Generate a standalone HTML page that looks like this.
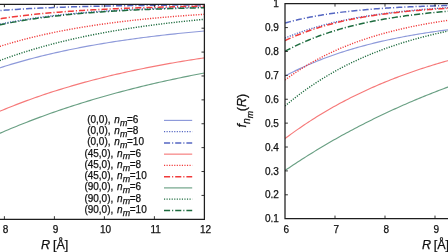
<!DOCTYPE html>
<html><head><meta charset="utf-8"><title>plot</title><style>
html,body{margin:0;padding:0;background:#fff;width:448px;height:252px;overflow:hidden}
svg{display:block}
</style></head><body>
<svg width="448" height="252" viewBox="0 0 448 252"><clipPath id="cl"><rect x="-10" y="4.30" width="214.40" height="215.00"/></clipPath><clipPath id="cr"><rect x="285.00" y="3.70" width="200" height="215.00"/></clipPath><g clip-path="url(#cl)"><path d="M-5.00,69.41 L-2.35,68.54 L0.30,67.69 L2.95,66.84 L5.60,66.02 L8.25,65.20 L10.90,64.40 L13.55,63.61 L16.21,62.84 L18.86,62.08 L21.51,61.33 L24.16,60.59 L26.81,59.87 L29.46,59.16 L32.11,58.46 L34.76,57.77 L37.41,57.09 L40.06,56.43 L42.71,55.77 L45.36,55.13 L48.01,54.50 L50.66,53.88 L53.31,53.26 L55.96,52.66 L58.62,52.07 L61.27,51.49 L63.92,50.92 L66.57,50.35 L69.22,49.80 L71.87,49.26 L74.52,48.72 L77.17,48.19 L79.82,47.68 L82.47,47.17 L85.12,46.67 L87.77,46.18 L90.42,45.69 L93.07,45.22 L95.72,44.75 L98.37,44.29 L101.03,43.83 L103.68,43.39 L106.33,42.95 L108.98,42.52 L111.63,42.10 L114.28,41.68 L116.93,41.27 L119.58,40.87 L122.23,40.48 L124.88,40.09 L127.53,39.70 L130.18,39.33 L132.83,38.96 L135.48,38.59 L138.13,38.24 L140.78,37.89 L143.44,37.54 L146.09,37.20 L148.74,36.86 L151.39,36.54 L154.04,36.21 L156.69,35.89 L159.34,35.58 L161.99,35.27 L164.64,34.97 L167.29,34.67 L169.94,34.38 L172.59,34.09 L175.24,33.81 L177.89,33.53 L180.54,33.26 L183.19,32.99 L185.85,32.73 L188.50,32.47 L191.15,32.21 L193.80,31.96 L196.45,31.71 L199.10,31.47 L201.75,31.23 L204.40,30.99" fill="none" stroke="#8e9ada" stroke-width="1.15"/><path d="M-5.00,25.30 L-2.35,24.71 L0.30,24.14 L2.95,23.59 L5.60,23.05 L8.25,22.53 L10.90,22.02 L13.55,21.53 L16.21,21.06 L18.86,20.59 L21.51,20.14 L24.16,19.71 L26.81,19.28 L29.46,18.87 L32.11,18.47 L34.76,18.08 L37.41,17.70 L40.06,17.34 L42.71,16.98 L45.36,16.64 L48.01,16.30 L50.66,15.98 L53.31,15.66 L55.96,15.36 L58.62,15.06 L61.27,14.77 L63.92,14.49 L66.57,14.22 L69.22,13.96 L71.87,13.70 L74.52,13.45 L77.17,13.21 L79.82,12.97 L82.47,12.75 L85.12,12.53 L87.77,12.31 L90.42,12.10 L93.07,11.90 L95.72,11.70 L98.37,11.51 L101.03,11.33 L103.68,11.15 L106.33,10.97 L108.98,10.81 L111.63,10.64 L114.28,10.48 L116.93,10.33 L119.58,10.18 L122.23,10.03 L124.88,9.89 L127.53,9.75 L130.18,9.62 L132.83,9.49 L135.48,9.36 L138.13,9.24 L140.78,9.12 L143.44,9.00 L146.09,8.89 L148.74,8.78 L151.39,8.68 L154.04,8.58 L156.69,8.48 L159.34,8.38 L161.99,8.29 L164.64,8.20 L167.29,8.11 L169.94,8.02 L172.59,7.94 L175.24,7.86 L177.89,7.78 L180.54,7.70 L183.19,7.63 L185.85,7.56 L188.50,7.49 L191.15,7.42 L193.80,7.35 L196.45,7.29 L199.10,7.23 L201.75,7.17 L204.40,7.11" fill="none" stroke="#5567c2" stroke-width="1.4" stroke-dasharray="1.15 1.4"/><path d="M-5.00,10.92 L-2.35,10.70 L0.30,10.50 L2.95,10.30 L5.60,10.10 L8.25,9.91 L10.90,9.73 L13.55,9.56 L16.21,9.39 L18.86,9.22 L21.51,9.06 L24.16,8.91 L26.81,8.76 L29.46,8.62 L32.11,8.48 L34.76,8.35 L37.41,8.22 L40.06,8.09 L42.71,7.97 L45.36,7.85 L48.01,7.74 L50.66,7.63 L53.31,7.52 L55.96,7.42 L58.62,7.32 L61.27,7.23 L63.92,7.13 L66.57,7.04 L69.22,6.96 L71.87,6.87 L74.52,6.79 L77.17,6.71 L79.82,6.64 L82.47,6.56 L85.12,6.49 L87.77,6.42 L90.42,6.36 L93.07,6.29 L95.72,6.23 L98.37,6.17 L101.03,6.11 L103.68,6.06 L106.33,6.00 L108.98,5.95 L111.63,5.90 L114.28,5.85 L116.93,5.80 L119.58,5.76 L122.23,5.71 L124.88,5.67 L127.53,5.63 L130.18,5.59 L132.83,5.55 L135.48,5.51 L138.13,5.48 L140.78,5.44 L143.44,5.41 L146.09,5.37 L148.74,5.34 L151.39,5.31 L154.04,5.28 L156.69,5.25 L159.34,5.23 L161.99,5.20 L164.64,5.17 L167.29,5.15 L169.94,5.12 L172.59,5.10 L175.24,5.08 L177.89,5.06 L180.54,5.03 L183.19,5.01 L185.85,4.99 L188.50,4.98 L191.15,4.96 L193.80,4.94 L196.45,4.92 L199.10,4.90 L201.75,4.89 L204.40,4.87" fill="none" stroke="#5567c2" stroke-width="1.5" stroke-dasharray="6.1 2.0 1.1 2.05" stroke-dashoffset="2.63"/><path d="M-5.00,113.29 L-2.35,112.16 L0.30,111.04 L2.95,109.94 L5.60,108.85 L8.25,107.77 L10.90,106.71 L13.55,105.67 L16.21,104.64 L18.86,103.62 L21.51,102.62 L24.16,101.63 L26.81,100.65 L29.46,99.68 L32.11,98.73 L34.76,97.79 L37.41,96.87 L40.06,95.96 L42.71,95.05 L45.36,94.17 L48.01,93.29 L50.66,92.42 L53.31,91.57 L55.96,90.73 L58.62,89.90 L61.27,89.08 L63.92,88.27 L66.57,87.47 L69.22,86.68 L71.87,85.90 L74.52,85.14 L77.17,84.38 L79.82,83.64 L82.47,82.90 L85.12,82.17 L87.77,81.46 L90.42,80.75 L93.07,80.05 L95.72,79.36 L98.37,78.69 L101.03,78.02 L103.68,77.36 L106.33,76.70 L108.98,76.06 L111.63,75.43 L114.28,74.80 L116.93,74.18 L119.58,73.57 L122.23,72.97 L124.88,72.38 L127.53,71.79 L130.18,71.22 L132.83,70.65 L135.48,70.08 L138.13,69.53 L140.78,68.98 L143.44,68.44 L146.09,67.91 L148.74,67.39 L151.39,66.87 L154.04,66.36 L156.69,65.85 L159.34,65.35 L161.99,64.86 L164.64,64.38 L167.29,63.90 L169.94,63.43 L172.59,62.96 L175.24,62.50 L177.89,62.05 L180.54,61.60 L183.19,61.16 L185.85,60.73 L188.50,60.30 L191.15,59.88 L193.80,59.46 L196.45,59.05 L199.10,58.64 L201.75,58.24 L204.40,57.84" fill="none" stroke="#f67a7a" stroke-width="1.15"/><path d="M-5.00,47.97 L-2.35,47.11 L0.30,46.26 L2.95,45.43 L5.60,44.62 L8.25,43.82 L10.90,43.05 L13.55,42.28 L16.21,41.54 L18.86,40.80 L21.51,40.09 L24.16,39.39 L26.81,38.70 L29.46,38.03 L32.11,37.37 L34.76,36.73 L37.41,36.10 L40.06,35.48 L42.71,34.87 L45.36,34.28 L48.01,33.70 L50.66,33.13 L53.31,32.58 L55.96,32.03 L58.62,31.50 L61.27,30.98 L63.92,30.47 L66.57,29.96 L69.22,29.47 L71.87,28.99 L74.52,28.52 L77.17,28.06 L79.82,27.61 L82.47,27.17 L85.12,26.74 L87.77,26.32 L90.42,25.90 L93.07,25.50 L95.72,25.10 L98.37,24.71 L101.03,24.33 L103.68,23.96 L106.33,23.59 L108.98,23.24 L111.63,22.89 L114.28,22.54 L116.93,22.21 L119.58,21.88 L122.23,21.56 L124.88,21.24 L127.53,20.94 L130.18,20.63 L132.83,20.34 L135.48,20.05 L138.13,19.76 L140.78,19.49 L143.44,19.22 L146.09,18.95 L148.74,18.69 L151.39,18.43 L154.04,18.18 L156.69,17.94 L159.34,17.70 L161.99,17.46 L164.64,17.24 L167.29,17.01 L169.94,16.79 L172.59,16.57 L175.24,16.36 L177.89,16.16 L180.54,15.95 L183.19,15.76 L185.85,15.56 L188.50,15.37 L191.15,15.19 L193.80,15.00 L196.45,14.83 L199.10,14.65 L201.75,14.48 L204.40,14.31" fill="none" stroke="#f03a3a" stroke-width="1.4" stroke-dasharray="1.15 1.4"/><path d="M-5.00,19.53 L-2.35,19.11 L0.30,18.70 L2.95,18.31 L5.60,17.92 L8.25,17.55 L10.90,17.19 L13.55,16.83 L16.21,16.49 L18.86,16.15 L21.51,15.83 L24.16,15.52 L26.81,15.21 L29.46,14.91 L32.11,14.62 L34.76,14.34 L37.41,14.07 L40.06,13.80 L42.71,13.55 L45.36,13.30 L48.01,13.05 L50.66,12.82 L53.31,12.59 L55.96,12.36 L58.62,12.14 L61.27,11.93 L63.92,11.73 L66.57,11.53 L69.22,11.34 L71.87,11.15 L74.52,10.96 L77.17,10.79 L79.82,10.61 L82.47,10.45 L85.12,10.28 L87.77,10.12 L90.42,9.97 L93.07,9.82 L95.72,9.68 L98.37,9.53 L101.03,9.40 L103.68,9.26 L106.33,9.13 L108.98,9.01 L111.63,8.88 L114.28,8.77 L116.93,8.65 L119.58,8.54 L122.23,8.43 L124.88,8.32 L127.53,8.22 L130.18,8.12 L132.83,8.02 L135.48,7.93 L138.13,7.83 L140.78,7.75 L143.44,7.66 L146.09,7.57 L148.74,7.49 L151.39,7.41 L154.04,7.33 L156.69,7.26 L159.34,7.19 L161.99,7.11 L164.64,7.05 L167.29,6.98 L169.94,6.91 L172.59,6.85 L175.24,6.79 L177.89,6.73 L180.54,6.67 L183.19,6.61 L185.85,6.56 L188.50,6.51 L191.15,6.45 L193.80,6.40 L196.45,6.35 L199.10,6.31 L201.75,6.26 L204.40,6.21" fill="none" stroke="#f03a3a" stroke-width="1.5" stroke-dasharray="6.1 2.0 1.1 2.05" stroke-dashoffset="5.49"/><path d="M-5.00,135.43 L-2.35,134.26 L0.30,133.10 L2.95,131.95 L5.60,130.82 L8.25,129.70 L10.90,128.59 L13.55,127.49 L16.21,126.41 L18.86,125.33 L21.51,124.27 L24.16,123.22 L26.81,122.18 L29.46,121.15 L32.11,120.14 L34.76,119.13 L37.41,118.14 L40.06,117.15 L42.71,116.18 L45.36,115.21 L48.01,114.26 L50.66,113.32 L53.31,112.39 L55.96,111.47 L58.62,110.55 L61.27,109.65 L63.92,108.76 L66.57,107.88 L69.22,107.00 L71.87,106.14 L74.52,105.28 L77.17,104.44 L79.82,103.60 L82.47,102.78 L85.12,101.96 L87.77,101.15 L90.42,100.35 L93.07,99.56 L95.72,98.77 L98.37,98.00 L101.03,97.23 L103.68,96.47 L106.33,95.72 L108.98,94.98 L111.63,94.25 L114.28,93.52 L116.93,92.80 L119.58,92.09 L122.23,91.39 L124.88,90.69 L127.53,90.01 L130.18,89.33 L132.83,88.65 L135.48,87.99 L138.13,87.33 L140.78,86.68 L143.44,86.03 L146.09,85.40 L148.74,84.76 L151.39,84.14 L154.04,83.52 L156.69,82.91 L159.34,82.31 L161.99,81.71 L164.64,81.12 L167.29,80.54 L169.94,79.96 L172.59,79.39 L175.24,78.82 L177.89,78.26 L180.54,77.71 L183.19,77.16 L185.85,76.62 L188.50,76.09 L191.15,75.56 L193.80,75.03 L196.45,74.51 L199.10,74.00 L201.75,73.49 L204.40,72.99" fill="none" stroke="#6aa084" stroke-width="1.15"/><path d="M-5.00,62.39 L-2.35,61.37 L0.30,60.37 L2.95,59.39 L5.60,58.43 L8.25,57.49 L10.90,56.56 L13.55,55.65 L16.21,54.75 L18.86,53.88 L21.51,53.01 L24.16,52.16 L26.81,51.33 L29.46,50.51 L32.11,49.71 L34.76,48.92 L37.41,48.15 L40.06,47.39 L42.71,46.64 L45.36,45.91 L48.01,45.19 L50.66,44.48 L53.31,43.79 L55.96,43.11 L58.62,42.44 L61.27,41.78 L63.92,41.13 L66.57,40.50 L69.22,39.87 L71.87,39.26 L74.52,38.66 L77.17,38.07 L79.82,37.49 L82.47,36.92 L85.12,36.36 L87.77,35.82 L90.42,35.28 L93.07,34.75 L95.72,34.23 L98.37,33.72 L101.03,33.21 L103.68,32.72 L106.33,32.24 L108.98,31.76 L111.63,31.30 L114.28,30.84 L116.93,30.39 L119.58,29.95 L122.23,29.51 L124.88,29.09 L127.53,28.67 L130.18,28.26 L132.83,27.85 L135.48,27.46 L138.13,27.07 L140.78,26.69 L143.44,26.31 L146.09,25.94 L148.74,25.58 L151.39,25.23 L154.04,24.88 L156.69,24.53 L159.34,24.20 L161.99,23.87 L164.64,23.54 L167.29,23.22 L169.94,22.91 L172.59,22.60 L175.24,22.30 L177.89,22.00 L180.54,21.71 L183.19,21.43 L185.85,21.14 L188.50,20.87 L191.15,20.60 L193.80,20.33 L196.45,20.07 L199.10,19.81 L201.75,19.56 L204.40,19.31" fill="none" stroke="#1d6b3e" stroke-width="1.4" stroke-dasharray="1.15 1.4"/><path d="M-5.00,25.90 L-2.35,25.31 L0.30,24.74 L2.95,24.19 L5.60,23.65 L8.25,23.13 L10.90,22.62 L13.55,22.13 L16.21,21.66 L18.86,21.19 L21.51,20.74 L24.16,20.31 L26.81,19.88 L29.46,19.47 L32.11,19.07 L34.76,18.68 L37.41,18.30 L40.06,17.94 L42.71,17.58 L45.36,17.24 L48.01,16.90 L50.66,16.58 L53.31,16.26 L55.96,15.96 L58.62,15.66 L61.27,15.37 L63.92,15.09 L66.57,14.82 L69.22,14.56 L71.87,14.30 L74.52,14.05 L77.17,13.81 L79.82,13.57 L82.47,13.35 L85.12,13.13 L87.77,12.91 L90.42,12.70 L93.07,12.50 L95.72,12.30 L98.37,12.11 L101.03,11.93 L103.68,11.75 L106.33,11.57 L108.98,11.41 L111.63,11.24 L114.28,11.08 L116.93,10.93 L119.58,10.78 L122.23,10.63 L124.88,10.49 L127.53,10.35 L130.18,10.22 L132.83,10.09 L135.48,9.96 L138.13,9.84 L140.78,9.72 L143.44,9.60 L146.09,9.49 L148.74,9.38 L151.39,9.28 L154.04,9.18 L156.69,9.08 L159.34,8.98 L161.99,8.89 L164.64,8.80 L167.29,8.71 L169.94,8.62 L172.59,8.54 L175.24,8.46 L177.89,8.38 L180.54,8.30 L183.19,8.23 L185.85,8.16 L188.50,8.09 L191.15,8.02 L193.80,7.95 L196.45,7.89 L199.10,7.83 L201.75,7.77 L204.40,7.71" fill="none" stroke="#1d6b3e" stroke-width="1.5" stroke-dasharray="6.1 2.0 1.1 2.05" stroke-dashoffset="6.75"/></g><g clip-path="url(#cr)"><path d="M285.00,76.00 L287.11,74.89 L289.23,73.80 L291.34,72.73 L293.46,71.68 L295.57,70.64 L297.68,69.63 L299.80,68.63 L301.91,67.66 L304.03,66.70 L306.14,65.76 L308.25,64.83 L310.37,63.93 L312.48,63.03 L314.59,62.16 L316.71,61.30 L318.82,60.46 L320.94,59.63 L323.05,58.82 L325.16,58.02 L327.28,57.23 L329.39,56.46 L331.51,55.71 L333.62,54.97 L335.73,54.24 L337.85,53.52 L339.96,52.82 L342.08,52.13 L344.19,51.46 L346.30,50.79 L348.42,50.14 L350.53,49.50 L352.65,48.87 L354.76,48.25 L356.87,47.65 L358.99,47.05 L361.10,46.47 L363.22,45.90 L365.33,45.33 L367.44,44.78 L369.56,44.24 L371.67,43.70 L373.78,43.18 L375.90,42.67 L378.01,42.16 L380.13,41.67 L382.24,41.18 L384.35,40.71 L386.47,40.24 L388.58,39.78 L390.70,39.32 L392.81,38.88 L394.92,38.45 L397.04,38.02 L399.15,37.60 L401.27,37.19 L403.38,36.78 L405.49,36.39 L407.61,36.00 L409.72,35.61 L411.84,35.24 L413.95,34.87 L416.06,34.50 L418.18,34.15 L420.29,33.80 L422.41,33.46 L424.52,33.12 L426.63,32.79 L428.75,32.47 L430.86,32.15 L432.97,31.83 L435.09,31.53 L437.20,31.23 L439.32,30.93 L441.43,30.64 L443.54,30.35 L445.66,30.07 L447.77,29.80 L449.89,29.53 L452.00,29.26" fill="none" stroke="#8e9ada" stroke-width="1.15"/><path d="M285.00,38.09 L287.11,37.21 L289.23,36.36 L291.34,35.52 L293.46,34.71 L295.57,33.91 L297.68,33.14 L299.80,32.38 L301.91,31.64 L304.03,30.93 L306.14,30.22 L308.25,29.54 L310.37,28.87 L312.48,28.22 L314.59,27.59 L316.71,26.97 L318.82,26.37 L320.94,25.78 L323.05,25.20 L325.16,24.64 L327.28,24.10 L329.39,23.56 L331.51,23.04 L333.62,22.53 L335.73,22.04 L337.85,21.56 L339.96,21.09 L342.08,20.63 L344.19,20.18 L346.30,19.74 L348.42,19.32 L350.53,18.90 L352.65,18.50 L354.76,18.10 L356.87,17.72 L358.99,17.34 L361.10,16.97 L363.22,16.62 L365.33,16.27 L367.44,15.93 L369.56,15.59 L371.67,15.27 L373.78,14.95 L375.90,14.65 L378.01,14.35 L380.13,14.05 L382.24,13.77 L384.35,13.49 L386.47,13.22 L388.58,12.95 L390.70,12.69 L392.81,12.44 L394.92,12.19 L397.04,11.95 L399.15,11.72 L401.27,11.49 L403.38,11.27 L405.49,11.05 L407.61,10.84 L409.72,10.63 L411.84,10.43 L413.95,10.23 L416.06,10.04 L418.18,9.85 L420.29,9.67 L422.41,9.49 L424.52,9.32 L426.63,9.15 L428.75,8.99 L430.86,8.82 L432.97,8.67 L435.09,8.51 L437.20,8.36 L439.32,8.22 L441.43,8.08 L443.54,7.94 L445.66,7.80 L447.77,7.67 L449.89,7.54 L452.00,7.42" fill="none" stroke="#5567c2" stroke-width="1.4" stroke-dasharray="1.15 1.4"/><path d="M285.00,23.06 L287.11,22.47 L289.23,21.90 L291.34,21.35 L293.46,20.82 L295.57,20.30 L297.68,19.80 L299.80,19.31 L301.91,18.84 L304.03,18.38 L306.14,17.93 L308.25,17.50 L310.37,17.08 L312.48,16.68 L314.59,16.28 L316.71,15.90 L318.82,15.53 L320.94,15.17 L323.05,14.83 L325.16,14.49 L327.28,14.16 L329.39,13.84 L331.51,13.54 L333.62,13.24 L335.73,12.95 L337.85,12.67 L339.96,12.40 L342.08,12.13 L344.19,11.88 L346.30,11.63 L348.42,11.39 L350.53,11.15 L352.65,10.93 L354.76,10.71 L356.87,10.49 L358.99,10.29 L361.10,10.09 L363.22,9.89 L365.33,9.70 L367.44,9.52 L369.56,9.34 L371.67,9.17 L373.78,9.01 L375.90,8.85 L378.01,8.69 L380.13,8.54 L382.24,8.39 L384.35,8.25 L386.47,8.11 L388.58,7.97 L390.70,7.84 L392.81,7.72 L394.92,7.59 L397.04,7.48 L399.15,7.36 L401.27,7.25 L403.38,7.14 L405.49,7.03 L407.61,6.93 L409.72,6.83 L411.84,6.74 L413.95,6.64 L416.06,6.55 L418.18,6.47 L420.29,6.38 L422.41,6.30 L424.52,6.22 L426.63,6.14 L428.75,6.07 L430.86,6.00 L432.97,5.92 L435.09,5.86 L437.20,5.79 L439.32,5.73 L441.43,5.66 L443.54,5.60 L445.66,5.54 L447.77,5.49 L449.89,5.43 L452.00,5.38" fill="none" stroke="#5567c2" stroke-width="1.5" stroke-dasharray="6.1 2.0 1.1 2.05" stroke-dashoffset="0"/><path d="M285.00,138.59 L287.11,137.00 L289.23,135.44 L291.34,133.90 L293.46,132.37 L295.57,130.87 L297.68,129.39 L299.80,127.92 L301.91,126.47 L304.03,125.04 L306.14,123.63 L308.25,122.24 L310.37,120.87 L312.48,119.51 L314.59,118.17 L316.71,116.85 L318.82,115.54 L320.94,114.25 L323.05,112.98 L325.16,111.73 L327.28,110.49 L329.39,109.26 L331.51,108.05 L333.62,106.86 L335.73,105.68 L337.85,104.52 L339.96,103.37 L342.08,102.24 L344.19,101.12 L346.30,100.01 L348.42,98.92 L350.53,97.85 L352.65,96.78 L354.76,95.74 L356.87,94.70 L358.99,93.68 L361.10,92.67 L363.22,91.67 L365.33,90.69 L367.44,89.72 L369.56,88.76 L371.67,87.81 L373.78,86.88 L375.90,85.95 L378.01,85.04 L380.13,84.14 L382.24,83.26 L384.35,82.38 L386.47,81.51 L388.58,80.66 L390.70,79.82 L392.81,78.98 L394.92,78.16 L397.04,77.35 L399.15,76.55 L401.27,75.76 L403.38,74.98 L405.49,74.21 L407.61,73.45 L409.72,72.70 L411.84,71.96 L413.95,71.22 L416.06,70.50 L418.18,69.79 L420.29,69.08 L422.41,68.39 L424.52,67.70 L426.63,67.02 L428.75,66.36 L430.86,65.69 L432.97,65.04 L435.09,64.40 L437.20,63.76 L439.32,63.14 L441.43,62.52 L443.54,61.91 L445.66,61.30 L447.77,60.71 L449.89,60.12 L452.00,59.54" fill="none" stroke="#f67a7a" stroke-width="1.15"/><path d="M285.00,80.00 L287.11,78.44 L289.23,76.92 L291.34,75.43 L293.46,73.97 L295.57,72.54 L297.68,71.14 L299.80,69.77 L301.91,68.43 L304.03,67.11 L306.14,65.83 L308.25,64.57 L310.37,63.34 L312.48,62.13 L314.59,60.95 L316.71,59.80 L318.82,58.66 L320.94,57.56 L323.05,56.47 L325.16,55.41 L327.28,54.37 L329.39,53.35 L331.51,52.36 L333.62,51.38 L335.73,50.43 L337.85,49.49 L339.96,48.58 L342.08,47.68 L344.19,46.81 L346.30,45.95 L348.42,45.11 L350.53,44.29 L352.65,43.48 L354.76,42.69 L356.87,41.92 L358.99,41.17 L361.10,40.43 L363.22,39.70 L365.33,38.99 L367.44,38.30 L369.56,37.62 L371.67,36.95 L373.78,36.30 L375.90,35.67 L378.01,35.04 L380.13,34.43 L382.24,33.83 L384.35,33.25 L386.47,32.67 L388.58,32.11 L390.70,31.56 L392.81,31.03 L394.92,30.50 L397.04,29.98 L399.15,29.48 L401.27,28.99 L403.38,28.50 L405.49,28.03 L407.61,27.56 L409.72,27.11 L411.84,26.67 L413.95,26.23 L416.06,25.81 L418.18,25.39 L420.29,24.98 L422.41,24.58 L424.52,24.19 L426.63,23.81 L428.75,23.43 L430.86,23.07 L432.97,22.71 L435.09,22.36 L437.20,22.01 L439.32,21.68 L441.43,21.35 L443.54,21.02 L445.66,20.71 L447.77,20.40 L449.89,20.09 L452.00,19.80" fill="none" stroke="#f03a3a" stroke-width="1.4" stroke-dasharray="1.15 1.4"/><path d="M285.00,40.66 L287.11,39.66 L289.23,38.68 L291.34,37.73 L293.46,36.81 L295.57,35.91 L297.68,35.03 L299.80,34.18 L301.91,33.36 L304.03,32.55 L306.14,31.77 L308.25,31.01 L310.37,30.27 L312.48,29.55 L314.59,28.85 L316.71,28.17 L318.82,27.50 L320.94,26.86 L323.05,26.23 L325.16,25.62 L327.28,25.03 L329.39,24.46 L331.51,23.90 L333.62,23.35 L335.73,22.82 L337.85,22.30 L339.96,21.80 L342.08,21.32 L344.19,20.84 L346.30,20.38 L348.42,19.93 L350.53,19.49 L352.65,19.07 L354.76,18.66 L356.87,18.26 L358.99,17.87 L361.10,17.49 L363.22,17.12 L365.33,16.76 L367.44,16.41 L369.56,16.07 L371.67,15.74 L373.78,15.42 L375.90,15.10 L378.01,14.80 L380.13,14.50 L382.24,14.22 L384.35,13.94 L386.47,13.67 L388.58,13.40 L390.70,13.14 L392.81,12.89 L394.92,12.65 L397.04,12.41 L399.15,12.18 L401.27,11.96 L403.38,11.74 L405.49,11.53 L407.61,11.32 L409.72,11.12 L411.84,10.93 L413.95,10.74 L416.06,10.55 L418.18,10.38 L420.29,10.20 L422.41,10.03 L424.52,9.87 L426.63,9.71 L428.75,9.55 L430.86,9.40 L432.97,9.25 L435.09,9.11 L437.20,8.97 L439.32,8.83 L441.43,8.70 L443.54,8.57 L445.66,8.45 L447.77,8.33 L449.89,8.21 L452.00,8.09" fill="none" stroke="#f03a3a" stroke-width="1.5" stroke-dasharray="6.1 2.0 1.1 2.05" stroke-dashoffset="0"/><path d="M285.00,170.52 L287.11,169.08 L289.23,167.65 L291.34,166.24 L293.46,164.83 L295.57,163.43 L297.68,162.05 L299.80,160.68 L301.91,159.32 L304.03,157.96 L306.14,156.62 L308.25,155.29 L310.37,153.97 L312.48,152.66 L314.59,151.37 L316.71,150.08 L318.82,148.80 L320.94,147.53 L323.05,146.27 L325.16,145.02 L327.28,143.78 L329.39,142.55 L331.51,141.33 L333.62,140.12 L335.73,138.92 L337.85,137.73 L339.96,136.55 L342.08,135.37 L344.19,134.21 L346.30,133.06 L348.42,131.91 L350.53,130.77 L352.65,129.65 L354.76,128.53 L356.87,127.42 L358.99,126.32 L361.10,125.22 L363.22,124.14 L365.33,123.07 L367.44,122.00 L369.56,120.94 L371.67,119.89 L373.78,118.85 L375.90,117.81 L378.01,116.79 L380.13,115.77 L382.24,114.76 L384.35,113.76 L386.47,112.76 L388.58,111.78 L390.70,110.80 L392.81,109.83 L394.92,108.87 L397.04,107.91 L399.15,106.96 L401.27,106.02 L403.38,105.09 L405.49,104.16 L407.61,103.24 L409.72,102.33 L411.84,101.43 L413.95,100.53 L416.06,99.64 L418.18,98.76 L420.29,97.88 L422.41,97.01 L424.52,96.15 L426.63,95.29 L428.75,94.44 L430.86,93.60 L432.97,92.76 L435.09,91.94 L437.20,91.11 L439.32,90.30 L441.43,89.49 L443.54,88.68 L445.66,87.89 L447.77,87.09 L449.89,86.31 L452.00,85.53" fill="none" stroke="#6aa084" stroke-width="1.15"/><path d="M285.00,105.99 L287.11,104.21 L289.23,102.45 L291.34,100.73 L293.46,99.04 L295.57,97.38 L297.68,95.74 L299.80,94.14 L301.91,92.57 L304.03,91.02 L306.14,89.50 L308.25,88.01 L310.37,86.55 L312.48,85.11 L314.59,83.70 L316.71,82.31 L318.82,80.95 L320.94,79.61 L323.05,78.30 L325.16,77.01 L327.28,75.74 L329.39,74.50 L331.51,73.28 L333.62,72.08 L335.73,70.90 L337.85,69.74 L339.96,68.61 L342.08,67.49 L344.19,66.40 L346.30,65.32 L348.42,64.26 L350.53,63.23 L352.65,62.21 L354.76,61.21 L356.87,60.22 L358.99,59.26 L361.10,58.31 L363.22,57.38 L365.33,56.46 L367.44,55.57 L369.56,54.68 L371.67,53.82 L373.78,52.97 L375.90,52.13 L378.01,51.31 L380.13,50.51 L382.24,49.71 L384.35,48.94 L386.47,48.18 L388.58,47.43 L390.70,46.69 L392.81,45.97 L394.92,45.26 L397.04,44.56 L399.15,43.88 L401.27,43.20 L403.38,42.54 L405.49,41.90 L407.61,41.26 L409.72,40.63 L411.84,40.02 L413.95,39.42 L416.06,38.83 L418.18,38.24 L420.29,37.67 L422.41,37.11 L424.52,36.56 L426.63,36.02 L428.75,35.49 L430.86,34.97 L432.97,34.46 L435.09,33.95 L437.20,33.46 L439.32,32.97 L441.43,32.50 L443.54,32.03 L445.66,31.57 L447.77,31.12 L449.89,30.67 L452.00,30.24" fill="none" stroke="#1d6b3e" stroke-width="1.4" stroke-dasharray="1.15 1.4"/><path d="M285.00,51.33 L287.11,50.19 L289.23,49.08 L291.34,47.99 L293.46,46.94 L295.57,45.90 L297.68,44.90 L299.80,43.91 L301.91,42.95 L304.03,42.02 L306.14,41.10 L308.25,40.21 L310.37,39.34 L312.48,38.49 L314.59,37.66 L316.71,36.85 L318.82,36.06 L320.94,35.29 L323.05,34.54 L325.16,33.81 L327.28,33.09 L329.39,32.39 L331.51,31.71 L333.62,31.05 L335.73,30.40 L337.85,29.76 L339.96,29.15 L342.08,28.54 L344.19,27.95 L346.30,27.38 L348.42,26.82 L350.53,26.27 L352.65,25.73 L354.76,25.21 L356.87,24.70 L358.99,24.21 L361.10,23.72 L363.22,23.25 L365.33,22.79 L367.44,22.34 L369.56,21.90 L371.67,21.47 L373.78,21.05 L375.90,20.64 L378.01,20.24 L380.13,19.86 L382.24,19.48 L384.35,19.11 L386.47,18.74 L388.58,18.39 L390.70,18.05 L392.81,17.71 L394.92,17.38 L397.04,17.06 L399.15,16.75 L401.27,16.45 L403.38,16.15 L405.49,15.86 L407.61,15.57 L409.72,15.30 L411.84,15.03 L413.95,14.76 L416.06,14.51 L418.18,14.26 L420.29,14.01 L422.41,13.77 L424.52,13.54 L426.63,13.31 L428.75,13.09 L430.86,12.87 L432.97,12.66 L435.09,12.46 L437.20,12.26 L439.32,12.06 L441.43,11.87 L443.54,11.68 L445.66,11.50 L447.77,11.32 L449.89,11.14 L452.00,10.98" fill="none" stroke="#1d6b3e" stroke-width="1.5" stroke-dasharray="6.1 2.0 1.1 2.05" stroke-dashoffset="0"/></g><path d="M-5,4.3 L204.4,4.3 L204.4,219.3 L-5,219.3" fill="none" stroke="#1e1e1e" stroke-width="1.25"/><path d="M460,3.7 L285.0,3.7 L285.0,218.7 L460,218.7" fill="none" stroke="#1e1e1e" stroke-width="1.25"/><path d="M335.0,218.7 v-3.1 M335.0,3.7 v2.9 M4.4,219.3 v-3.1 M4.4,4.3 v2.9 M385.0,218.7 v-3.1 M385.0,3.7 v2.9 M54.4,219.3 v-3.1 M54.4,4.3 v2.9 M435.0,218.7 v-3.1 M435.0,3.7 v2.9 M104.4,219.3 v-3.1 M104.4,4.3 v2.9 M154.4,219.3 v-3.1 M154.4,4.3 v2.9 M204.4,28.19 h-2.9 M285.0,27.59 h2.9 M204.4,52.08 h-2.9 M285.0,51.48 h2.9 M204.4,75.97 h-2.9 M285.0,75.37 h2.9 M204.4,99.86 h-2.9 M285.0,99.26 h2.9 M204.4,123.74 h-2.9 M285.0,123.14 h2.9 M204.4,147.63 h-2.9 M285.0,147.03 h2.9 M204.4,171.52 h-2.9 M285.0,170.92 h2.9 M204.4,195.41 h-2.9 M285.0,194.81 h2.9" stroke="#1e1e1e" stroke-width="0.9" fill="none"/><g font-family="Liberation Sans, Arial, Helvetica, sans-serif" font-size="10" fill="#111" stroke="#111" stroke-width="0.25"><text x="286.2" y="232.7" text-anchor="middle">6</text><text x="336.2" y="232.7" text-anchor="middle">7</text><text x="5.6" y="233.2" text-anchor="middle">8</text><text x="386.2" y="232.7" text-anchor="middle">8</text><text x="55.6" y="233.2" text-anchor="middle">9</text><text x="436.2" y="232.7" text-anchor="middle">9</text><text x="105.6" y="233.2" text-anchor="middle">10</text><text x="155.6" y="233.2" text-anchor="middle">11</text><text x="205.6" y="233.2" text-anchor="middle">12</text><text x="278.9" y="7.35" text-anchor="end">1</text><text x="278.9" y="31.24" text-anchor="end">0.9</text><text x="278.9" y="55.13" text-anchor="end">0.8</text><text x="278.9" y="79.02" text-anchor="end">0.7</text><text x="278.9" y="102.91" text-anchor="end">0.6</text><text x="278.9" y="126.79" text-anchor="end">0.5</text><text x="278.9" y="150.68" text-anchor="end">0.4</text><text x="278.9" y="174.57" text-anchor="end">0.3</text><text x="278.9" y="198.46" text-anchor="end">0.2</text><text x="278.9" y="222.35" text-anchor="end">0.1</text></g><g font-family="Liberation Sans, Arial, Helvetica, sans-serif" font-size="12.6" fill="#111" stroke="#111" stroke-width="0.25"><text x="54.7" y="248.9" text-anchor="middle"><tspan font-style="italic">R</tspan><tspan dx="-0.8"> [Å]</tspan></text><text x="435.5" y="248.9" text-anchor="middle"><tspan font-style="italic">R</tspan><tspan dx="-0.8"> [Å]</tspan></text><text transform="translate(246.3,127.6) rotate(-90)"><tspan font-style="italic">f</tspan><tspan font-style="italic" font-size="10.5" dy="3.8">n</tspan><tspan font-style="italic" font-size="8.8" dy="3.2">m</tspan><tspan dy="-7" dx="-0.3">(</tspan><tspan font-style="italic">R</tspan>)</text></g><g font-family="Liberation Sans, Arial, Helvetica, sans-serif" font-size="10" fill="#111" stroke="#111" stroke-width="0.25"><text x="87.2" y="122.90">(0,0), <tspan font-style="italic" dx="1">n</tspan><tspan font-style="italic" font-size="8.9" dy="2.8">m</tspan><tspan dy="-2.8" dx="-0.3">=6</tspan></text><path d="M164,120.40 H192.2" stroke="#8e9ada" stroke-width="1.15"/><text x="87.2" y="134.15">(0,0), <tspan font-style="italic" dx="1">n</tspan><tspan font-style="italic" font-size="8.9" dy="2.8">m</tspan><tspan dy="-2.8" dx="-0.3">=8</tspan></text><path d="M164,131.65 H192.2" stroke="#5567c2" stroke-width="1.4" stroke-dasharray="1.15 1.4"/><text x="87.2" y="145.40">(0,0), <tspan font-style="italic" dx="1">n</tspan><tspan font-style="italic" font-size="8.9" dy="2.8">m</tspan><tspan dy="-2.8" dx="-0.3">=10</tspan></text><path d="M164,142.90 H192.2" stroke="#5567c2" stroke-width="1.5" stroke-dasharray="6.1 2.0 1.1 2.0"/><text x="84.4" y="156.65">(45,0), <tspan font-style="italic" dx="1">n</tspan><tspan font-style="italic" font-size="8.9" dy="2.8">m</tspan><tspan dy="-2.8" dx="-0.3">=6</tspan></text><path d="M164,154.15 H192.2" stroke="#f67a7a" stroke-width="1.15"/><text x="84.4" y="167.90">(45,0), <tspan font-style="italic" dx="1">n</tspan><tspan font-style="italic" font-size="8.9" dy="2.8">m</tspan><tspan dy="-2.8" dx="-0.3">=8</tspan></text><path d="M164,165.40 H192.2" stroke="#f03a3a" stroke-width="1.4" stroke-dasharray="1.15 1.4"/><text x="84.4" y="179.15">(45,0), <tspan font-style="italic" dx="1">n</tspan><tspan font-style="italic" font-size="8.9" dy="2.8">m</tspan><tspan dy="-2.8" dx="-0.3">=10</tspan></text><path d="M164,176.65 H192.2" stroke="#f03a3a" stroke-width="1.5" stroke-dasharray="6.1 2.0 1.1 2.0"/><text x="84.4" y="190.40">(90,0), <tspan font-style="italic" dx="1">n</tspan><tspan font-style="italic" font-size="8.9" dy="2.8">m</tspan><tspan dy="-2.8" dx="-0.3">=6</tspan></text><path d="M164,187.90 H192.2" stroke="#6aa084" stroke-width="1.15"/><text x="84.4" y="201.65">(90,0), <tspan font-style="italic" dx="1">n</tspan><tspan font-style="italic" font-size="8.9" dy="2.8">m</tspan><tspan dy="-2.8" dx="-0.3">=8</tspan></text><path d="M164,199.15 H192.2" stroke="#1d6b3e" stroke-width="1.4" stroke-dasharray="1.15 1.4"/><text x="84.4" y="212.90">(90,0), <tspan font-style="italic" dx="1">n</tspan><tspan font-style="italic" font-size="8.9" dy="2.8">m</tspan><tspan dy="-2.8" dx="-0.3">=10</tspan></text><path d="M164,210.40 H192.2" stroke="#1d6b3e" stroke-width="1.5" stroke-dasharray="6.1 2.0 1.1 2.0"/></g></svg>
</body></html>
